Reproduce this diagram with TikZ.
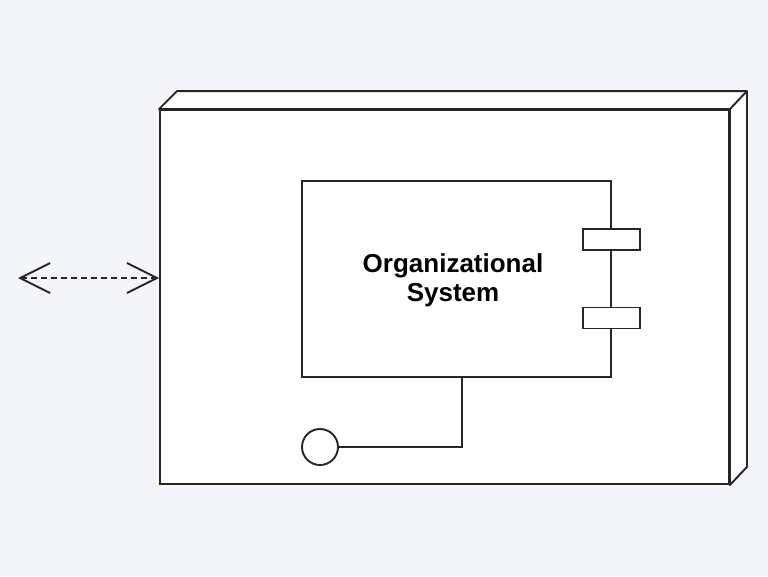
\documentclass[tikz,border=0pt]{standalone}
\usepackage{fontspec}
\setmainfont{Liberation Sans}
\usetikzlibrary{arrows.meta,calc}
\definecolor{bgc}{HTML}{F4F5FA}
\tikzset{
  ln/.style={line width=1.9pt, draw=black!85},
  facebox/.style={ln, fill=white, rectangle, inner sep=0pt},
  portbox/.style={ln, fill=white, rectangle, inner sep=0pt, minimum width=57pt, minimum height=21pt},
  lolli/.style={ln, fill=white, circle, inner sep=0pt, minimum size=36pt},
  lbl/.style={font=\bfseries\fontsize{26}{29}\selectfont, align=center, inner sep=0pt},
  comm/.style={ln, dashed, dash pattern=on 6pt off 4pt, {Straight Barb[length=30pt,width=30pt,line width=1.9pt]}-{Straight Barb[length=30pt,width=30pt,line width=1.9pt]}},
}
\begin{document}
\begin{tikzpicture}[x=1pt,y=-1pt]
\fill[bgc] (0,0) rectangle (768,576);
\useasboundingbox (0,0) rectangle (768,576);
% 3D node
\node[facebox, minimum width=569pt, minimum height=374pt] (dev) at (444.5,297) {};
\draw[ln, fill=white, line join=round] (dev.north west) -- ++(18,-18) -- ($(dev.north east)+(17,-18)$) -- ($(dev.south east)+(17,-18)$) -- (dev.south east) -- (dev.north east) -- cycle;
\draw[ln] (dev.north east) -- ++(17,-18);
% component
\node[facebox, minimum width=309pt, minimum height=196pt] (comp) at (456.5,279) {};
\node[lbl] (name) at (453,280) {Organizational\\System};
\node[portbox] (p1) at (611.5,239.5) {};
\node[portbox] (p2) at (611.5,318) {};
% interface
\node[lolli] (iface) at (320,447) {};
\coordinate (lx) at (462,377);
\draw[ln] (lx) |- (iface.east);
% communication arrow
\coordinate (ext) at (18,278);
\draw[comm] (ext) -- (ext -| dev.west);
\end{tikzpicture}
\end{document}
